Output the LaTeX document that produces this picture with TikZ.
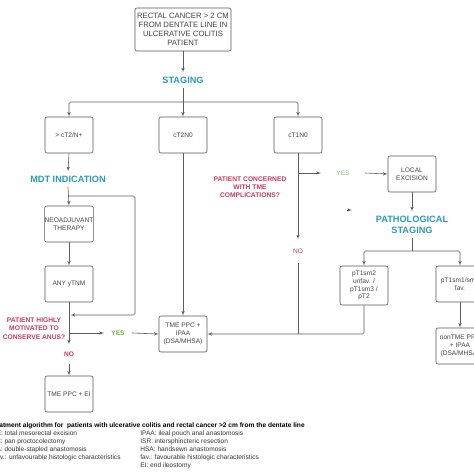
\documentclass[tikz,border=0pt]{standalone}
\usepackage{fontspec}
\setmainfont{Liberation Sans}
\usetikzlibrary{arrows,calc}
\definecolor{stagecol}{HTML}{2A9BB8}
\definecolor{askcol}{HTML}{C43A5E}
\definecolor{yescol}{HTML}{6CB24A}
\definecolor{linecol}{HTML}{5C5C5C}
\definecolor{boxcol}{HTML}{555555}
\definecolor{txtcol}{HTML}{444444}
\definecolor{legcol}{HTML}{333333}

\begin{document}
\begin{tikzpicture}[x=1pt, y=-1pt, >=latex', line width=0.6pt,
  box/.style={draw=boxcol, fill=white, rounded corners=2pt, align=center, text=txtcol,
    inner sep=0pt, minimum width=48pt, minimum height=36pt, font=\fontsize{6.6}{8.3}\selectfont},
  stage/.style={text=stagecol, align=center, inner sep=4pt, font=\bfseries\fontsize{9.2}{11}\selectfont},
  ask/.style={text=askcol, align=center, inner sep=0pt, font=\bfseries\fontsize{6.7}{8.2}\selectfont},
  answer/.style={font=\fontsize{6.6}{8}\selectfont, inner sep=7pt},
  link/.style={draw=linecol, rounded corners=1.5pt},
  legend/.style={text=legcol, inner sep=0pt, font=\fontsize{6.6}{8.2}\selectfont}]

\useasboundingbox (0, 0) rectangle (474, 474);

\node [box, minimum width=96pt, minimum height=43pt, font=\fontsize{7.7}{9}\selectfont]
  at (183, 29.5) (TOP) {RECTAL CANCER > 2 CM\\FROM DENTATE LINE IN\\ULCERATIVE COLITIS\\PATIENT};
\node [stage] at (183, 80) (STAGING) {STAGING};
\coordinate (SPLIT) at (183, 102);

\node [box] at (69, 135) (CT2N) {> cT2/N+};
\node [box] at (183, 135) (CT2N0) {cT2N0};
\node [box] at (298, 135) (CT1N0) {cT1N0};

\node [stage] at (68, 179) (MDT) {MDT INDICATION};
\coordinate (BYPASS) at (69, 196);
\node [box] at (69, 224) (NEO) {NEOADJUVANT\\THERAPY};
\node [box] at (69, 284) (ANY) {ANY yTNM};
\coordinate (JOIN) at (70.5, 315);
\node [ask] at (34, 328.5) (MOTIVATED) {PATIENT HIGHLY\\MOTIVATED TO\\CONSERVE ANUS?};
\coordinate (ASKSPLIT) at (69, 333);
\node [answer, text=yescol, font=\bfseries\fontsize{6.6}{8}\selectfont] at (118, 333) (YESL) {YES};
\node [answer, text=askcol, font=\bfseries\fontsize{6.6}{8}\selectfont] at (69, 354) (NOL) {NO};
\node [box] at (69, 394) (TMEEI) {TME PPC + EI};
\node [box] at (183, 334) (IPAA) {TME PPC +\\IPAA\\(DSA/MHSA)};

\node [ask] at (250, 187) (CONCERNED) {PATIENT CONCERNED\\WITH TME\\COMPLICATIONS?};
\coordinate (CONSPLIT) at (298, 173);
\node [answer, text=yescol!80, inner xsep=15pt] at (343, 173) (YESR) {YES};
\node [answer, text=askcol, inner ysep=9pt] at (298, 251) (NOR) {NO};

\node [box] at (412, 174) (LOCAL) {LOCAL\\EXCISION};
\node [stage] at (412, 224.5) (PATH) {PATHOLOGICAL\\STAGING};
\coordinate (PATHSPLIT) at (412, 251);
\node [box, minimum height=39pt, font=\fontsize{6.6}{7.9}\selectfont] at (364, 285.5) (PTUNFAV) {pT1sm2\\unfav. /\\pT1sm3 /\\pT2};
\node [box] at (460, 284) (PTFAV) {pT1sm1/sm2\\fav.};
\node [box] at (460, 346) (NONTME) {nonTME PPC\\+ IPAA\\(DSA/MHSA)};
\coordinate (STRAYA) at (346.5, 210);
\coordinate (STRAYB) at (352, 210);

\draw [link, ->] (TOP.south) -- (STAGING.north);
\draw [link] (STAGING.south) -- (SPLIT);
\draw [link, ->] (SPLIT) -| (CT2N.north);
\draw [link, ->] (SPLIT) -- (CT2N0.north);
\draw [link, ->] (SPLIT) -| (CT1N0.north);

\draw [link, ->] (CT2N.south) -- (MDT.north);
\draw [link, ->] (MDT.south) -- (NEO.north);
\draw [link, ->] (BYPASS) -- ++(66, 0) |- (JOIN);
\draw [link, ->] (NEO.south) -- (ANY.north);
\draw [link, ->] (ANY.south) -- (NOL.north);
\draw [link, ->] (ASKSPLIT) -- (YESL.west);
\draw [link, ->] (YESL.east) -- (IPAA.west);
\draw [link, ->] (NOL.south) -- (TMEEI.north);
\draw [link, ->] (CT2N0.south) -- (IPAA.north);

\draw [link, ->] (CT1N0.south) -- (NOR.north);
\draw [link, ->] (CONSPLIT) -- (YESR.west);
\draw [link, ->] (YESR.east) -- (LOCAL.west);
\draw [link] (NOR.south) -- (NOR.south |- IPAA.east);
\draw [link, ->] (PTUNFAV.south) |- (IPAA.east);

\draw [link, ->] (LOCAL.south) -- (PATH.north);
\draw [link] (PATH.south) -- (PATHSPLIT);
\draw [link, ->] (PATHSPLIT) -| (PTUNFAV.north);
\draw [link, ->] (PATHSPLIT) -| (PTFAV.north);
\draw [link, ->] (PTFAV.south) -- (NONTME.north);
\draw [link, ->] (STRAYA) -- (STRAYB);

\node [legend, anchor=base east, text=black, font=\bfseries\fontsize{6.6}{8}\selectfont] at (305, 427) (CAPTION)
  {Treatment algorithm for \ patients with ulcerative colitis and rectal cancer >2 cm from the dentate line};
\node [legend, anchor=north west, align=left] at (-13, 430) (LEGENDL)
  {TME: total mesorectal excision\\PPC: pan proctocolectomy\\DSA: double-stapled anastomosis\\unfav.: unfavourable histologic characteristics};
\node [legend, anchor=north west, align=left] at (140, 430) (LEGENDR)
  {IPAA: ileal pouch anal anastomosis\\ISR: intersphincteric resection\\HSA: handsewn anastomosis\\fav.: favourable histologic characteristics\\EI: end ileostomy};
\end{tikzpicture}
\end{document}
